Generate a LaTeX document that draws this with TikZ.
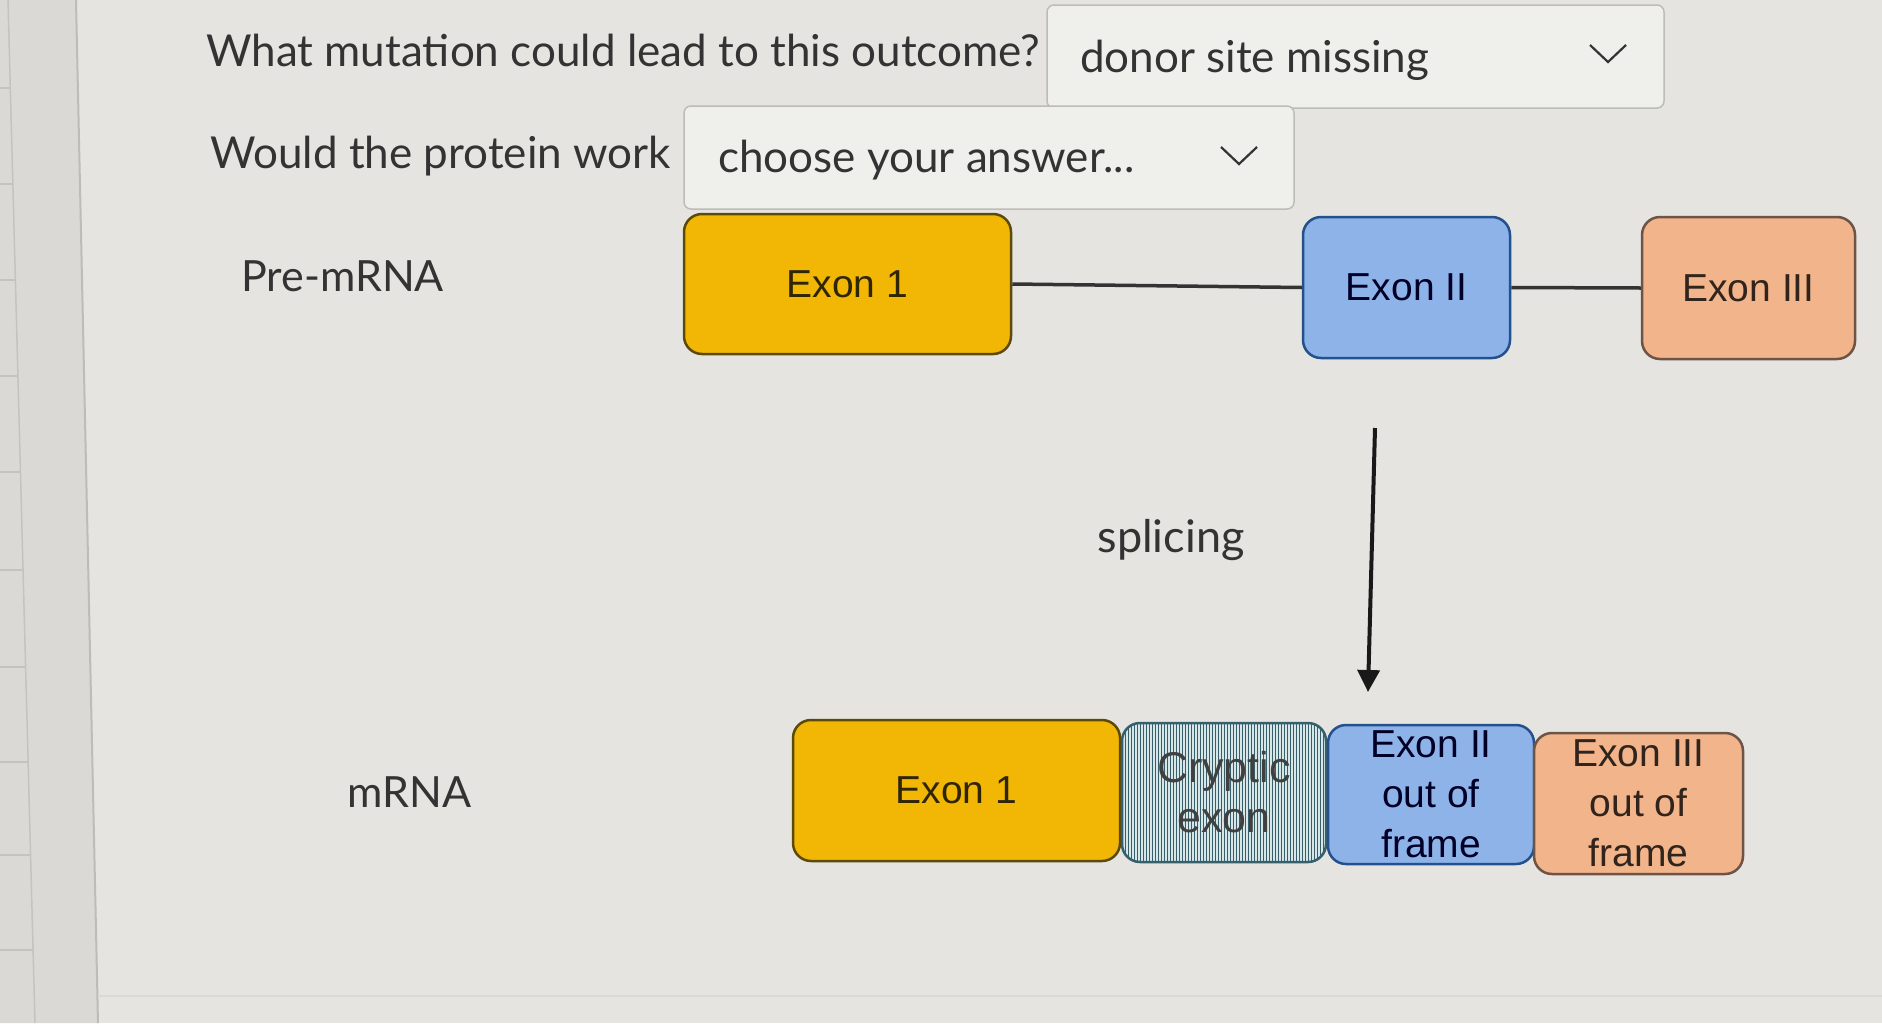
\documentclass[tikz,border=0pt]{standalone}
\usepackage{fontspec}
\setmainfont{Lato}
\newfontfamily\boxfont{Liberation Sans}
\usetikzlibrary{patterns,arrows.meta}
\definecolor{bg}{HTML}{E5E4E0}
\definecolor{strip}{HTML}{DAD9D5}
\definecolor{edge}{HTML}{BDBCB8}
\definecolor{txt}{HTML}{333333}
\definecolor{goldfill}{HTML}{F2B705}
\definecolor{golddraw}{HTML}{5C4A08}
\definecolor{bluefill}{HTML}{8DB3E8}
\definecolor{bluedraw}{HTML}{24518C}
\definecolor{peachfill}{HTML}{F2B48A}
\definecolor{peachdraw}{HTML}{6E5446}
\definecolor{cryfill}{HTML}{D8E6E8}
\definecolor{crydraw}{HTML}{35606B}
\tikzset{
  qtext/.style={anchor=base west, text=txt, inner sep=0pt, font=\fontsize{44}{52}\selectfont},
  lbl/.style={anchor=west, text=txt, inner sep=0pt, font=\fontsize{43}{50}\selectfont},
  dropbox/.style={draw=edge, line width=1.5pt, fill=bg!60!white, rounded corners=7pt},
  chev/.style={draw=txt, line width=2.2pt},
  exonbox/.style={rounded corners=18pt, line width=2.5pt, align=center, inner sep=0pt,
     font=\boxfont\fontsize{39}{50}\selectfont},
  goldbox/.style={exonbox, fill=goldfill, draw=golddraw, text=black!80!goldfill},
  bluebox/.style={exonbox, fill=bluefill, draw=bluedraw, text=black!85!blue},
  peachbox/.style={exonbox, fill=peachfill, draw=peachdraw, text=black!80!peachfill},
  crybox/.style={exonbox, fill=cryfill, draw=crydraw, text=black!75,
     postaction={pattern=vertical lines, pattern color=crydraw}},
  intron/.style={draw=black!80, line width=3.5pt},
  splicearrow/.style={draw=black!90, line width=4pt, -{Triangle[length=22pt,width=22pt]}}
}
\begin{document}
\begin{tikzpicture}[x=1pt,y=-1pt]
\useasboundingbox (0,0) rectangle (1882,1023);
\fill[bg] (0,0) rectangle (1882,1023);
% screen edge strip
\fill[strip] (0,0) -- (76,0) -- (98,1023) -- (0,1023) -- cycle;
\draw[edge, line width=2pt] (76,0) -- (98,1023);
\draw[edge!90!white, line width=1.5pt] (8,0) -- (35,1023);
\foreach \yy/\xx in {88/10.3,184/12.9,280/15.4,376/17.9,472/20.5,570/23,667/25.6,762/28.1,855/30.6,950/33.1}
  \draw[edge!90!white, line width=1.5pt] (0,\yy) -- (\xx,\yy);
\draw[strip, line width=1.5pt] (98,996) -- (1882,996);

% question rows
\node[qtext] (q1) at (206,66) {What mutation could lead to this outcome?};
\node[dropbox, minimum width=617pt, minimum height=103pt] (d1) at (1355.5,56.5) {};
\node[qtext] (a1) at (1080,72) {donor site missing};
\draw[chev] (1590,45) -- (1608,62) -- (1626,45);

\node[qtext] (q2) at (210,168) {Would the protein work};
\node[dropbox, minimum width=610pt, minimum height=103pt] (d2) at (989,157.5) {};
\node[qtext] (a2) at (718,172) {choose your answer...};
\draw[chev] (1221,147) -- (1239,164) -- (1257,147);

% labels
\node[lbl] (pre) at (241,276) {Pre-mRNA};
\node[lbl] (mrna) at (347,792) {mRNA};
\node[lbl, anchor=center, font=\fontsize{45}{52}\selectfont] (spl) at (1171,540) {splicing};

% pre-mRNA
\node[goldbox, minimum width=327pt, minimum height=140pt] (e1) at (847.5,284) {Exon 1};
\node[bluebox, minimum width=207pt, minimum height=141pt] (e2) at (1406.5,287.5) {Exon II};
\node[peachbox, minimum width=213pt, minimum height=142pt] (e3) at (1748.5,288) {Exon III};
\draw[intron] (e1.east) -- (e2.west);
\draw[intron] (e2.east) -- (e3.west);

% splicing arrow
\coordinate (s1) at (1375,428);
\coordinate (s2) at (1368,692);
\draw[splicearrow] (s1) -- (s2);

% mRNA
\node[goldbox, minimum width=327pt, minimum height=141pt] (m1) at (956.5,790.5) {Exon 1};
\node[crybox, minimum width=204pt, minimum height=139pt, font=\boxfont\fontsize{43}{50}\selectfont] (cr) at (1224,792.5) {Cryptic\\exon};
\node[bluebox, minimum width=206pt, minimum height=139pt] (m2) at (1431,794.5) {Exon II\\out of\\frame};
\node[peachbox, minimum width=209pt, minimum height=141pt] (m3) at (1638.5,803.5) {Exon III\\out of\\frame};
\end{tikzpicture}
\end{document}
